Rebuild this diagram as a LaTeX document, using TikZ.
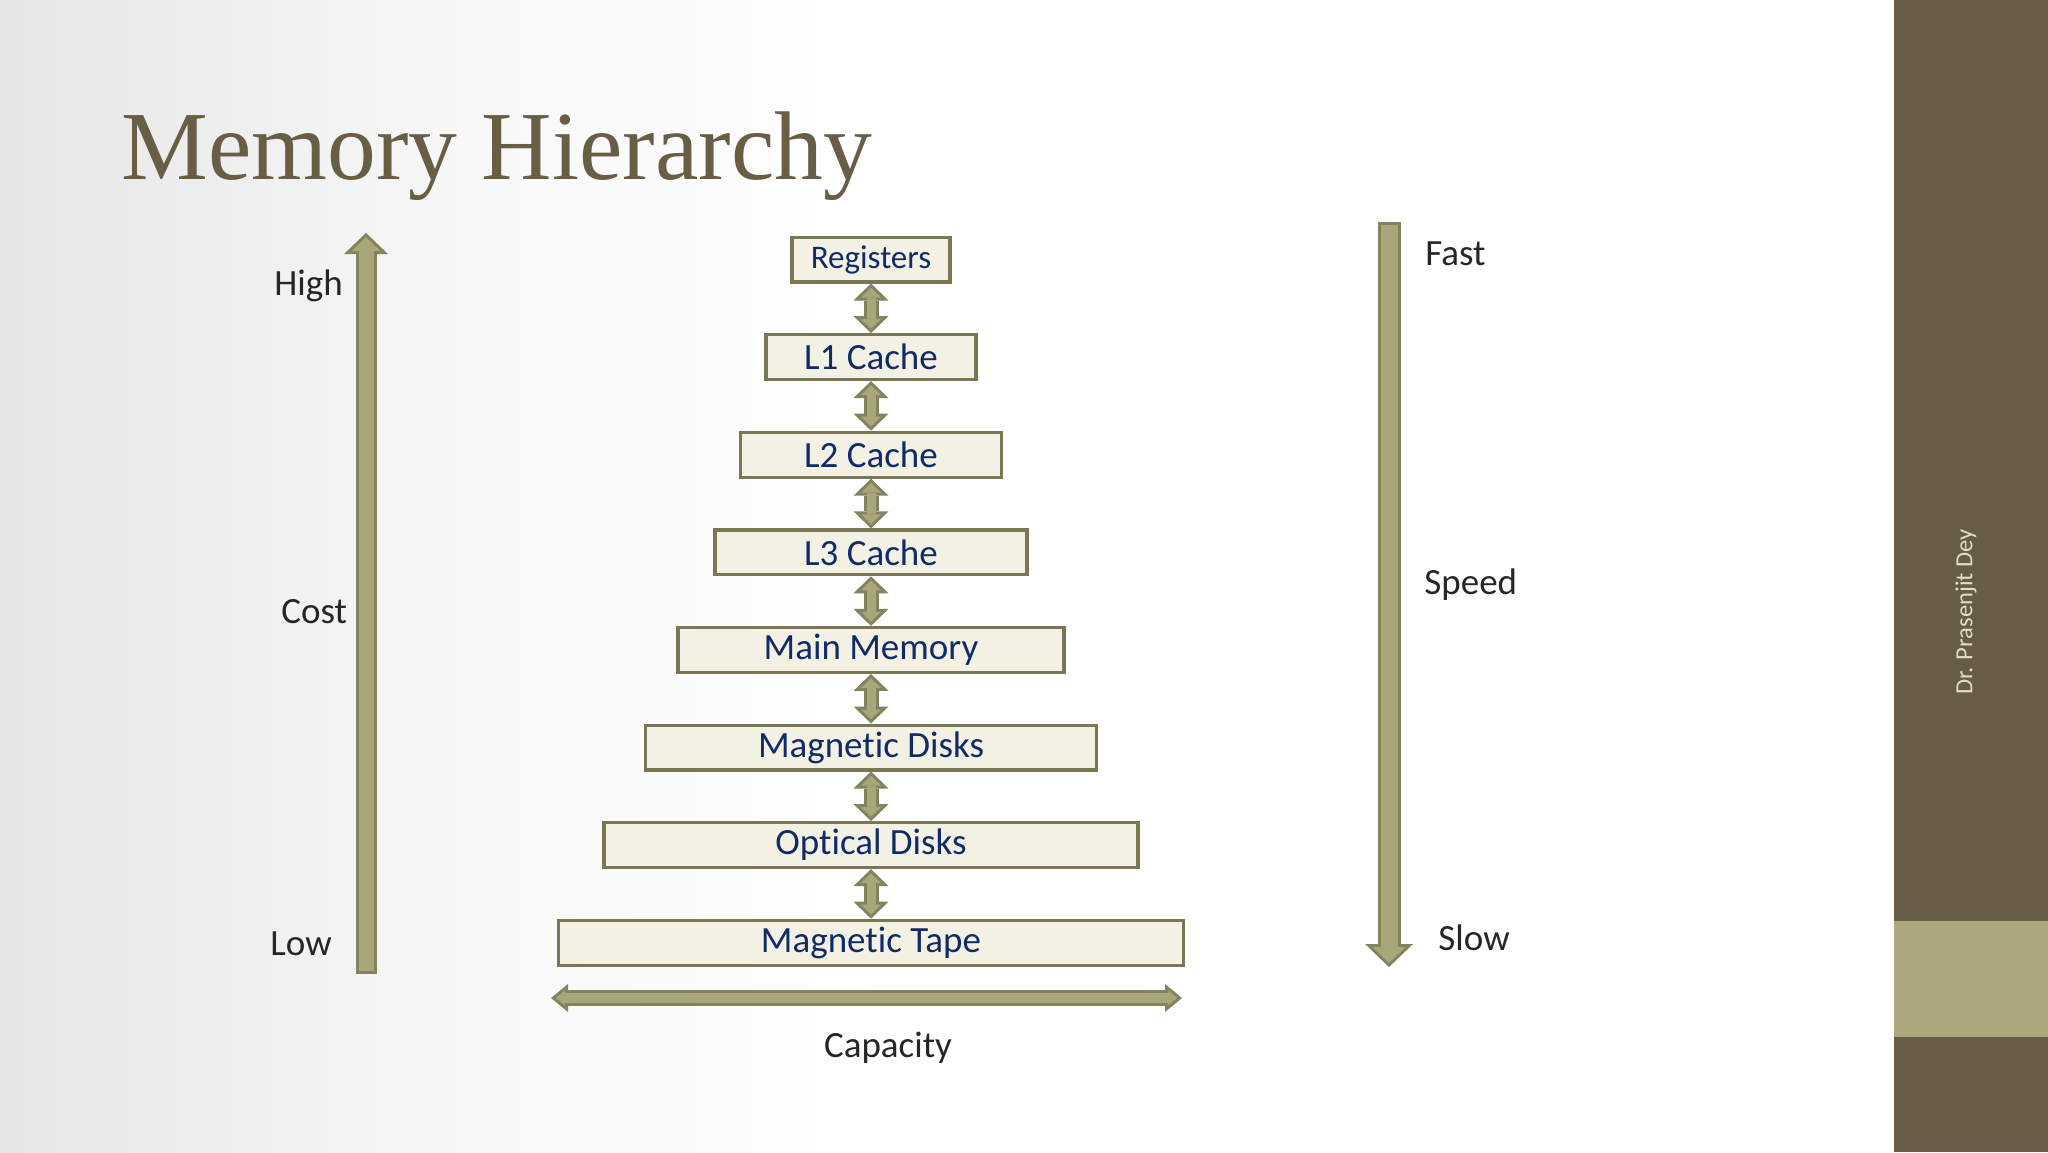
\documentclass[tikz,border=0pt]{standalone}
\usepackage{fontspec}
\setmainfont{Carlito}[Ligatures=NoCommon]
\newfontfamily\titlefont{Liberation Serif}
\usetikzlibrary{arrows.meta,positioning}

\definecolor{slidebar}{HTML}{665C48}
\definecolor{slideband}{HTML}{ADA77D}
\definecolor{titlebrown}{HTML}{675E45}
\definecolor{boxfill}{HTML}{F2F1E4}
\definecolor{boxline}{HTML}{7A7754}
\definecolor{arrowfill}{HTML}{A9A67A}
\definecolor{arrowline}{HTML}{85825F}
\definecolor{navy}{HTML}{112B66}
\definecolor{labelgray}{HTML}{262626}
\definecolor{namebeige}{HTML}{E2DCC6}

\begin{document}
\begin{tikzpicture}[x=0.5pt,y=-0.5pt,node distance=24.8pt]
  \tikzstyle{level}=[draw=boxline,fill=boxfill,line width=1.6pt,text=navy,
                     font=\fontsize{18.5}{22}\selectfont,inner sep=0pt,minimum height=22.4pt]
  \tikzstyle{side}=[text=labelgray,font=\fontsize{18.5}{22}\selectfont,inner sep=0pt,anchor=base west]
  \tikzstyle{linkout}=[draw=arrowline,line width=7.5pt,
                       arrows={Triangle[width=17.5pt,length=8.5pt,line width=0pt]-Triangle[width=17.5pt,length=8.5pt,line width=0pt]}]
  \tikzstyle{linkin}=[draw=arrowfill,line width=4.5pt,shorten <=2.1pt,shorten >=2.1pt,
                      arrows={Triangle[width=10pt,length=4.9pt,line width=0pt]-Triangle[width=10pt,length=4.9pt,line width=0pt]}]

  \useasboundingbox (0,0) rectangle (2048,1152);
  % slide background and side bar
  \fill[white] (0,0) rectangle (2048,1152);
  \shade[left color=black!10,right color=white,middle color=black!3] (0,0) rectangle (900,1152);
  \fill[slidebar] (1894,0) rectangle (2048,1152);
  \fill[slideband] (1894,921) rectangle (2048,1037);
  \node[rotate=90,text=namebeige,font=\fontsize{12.3}{14}\selectfont] (author) at (1966,612) {Dr. Prasenjit Dey};

  \node[anchor=base west,inner sep=0pt,text=titlebrown,font=\titlefont\fontsize{48.8}{58}\selectfont]
       (title) at (121,179) {Memory Hierarchy};

  % the levels
  \node[level,minimum width=79pt,font=\fontsize{16.5}{20}\selectfont] (reg) at (871,259.5) {Registers};
  \node[level,minimum width=105pt]   (lone)    [below=of reg]     {L1 Cache};
  \node[level,minimum width=130.5pt] (ltwo)    [below=of lone]    {L2 Cache};
  \node[level,minimum width=156pt]   (lthree)  [below=of ltwo]    {L3 Cache};
  \node[level,minimum width=193pt]   (mainmem) [below=of lthree]  {Main Memory};
  \node[level,minimum width=225.5pt] (disks)   [below=of mainmem] {Magnetic Disks};
  \node[level,minimum width=267pt]   (optical) [below=of disks]   {Optical Disks};
  \node[level,minimum width=312.5pt] (tape)    [below=of optical] {Magnetic Tape};

  \foreach \a/\b in {reg/lone,lone/ltwo,ltwo/lthree,lthree/mainmem,mainmem/disks,disks/optical,optical/tape}
  {
    \draw[linkout] (\a.south) -- (\b.north);
    \draw[linkin]  (\a.south) -- (\b.north);
  }

  % cost axis
  \coordinate (costlow)  at (366,974);
  \coordinate (costhigh) at (366,233);
  \draw[draw=arrowline,line width=10.5pt,arrows={-Triangle[width=22pt,length=10.5pt,line width=0pt]}] (costlow) -- (costhigh);
  \draw[draw=arrowfill,line width=7.5pt,shorten <=1.5pt,shorten >=2.1pt,
        arrows={-Triangle[width=14.5pt,length=6.9pt,line width=0pt]}] (costlow) -- (costhigh);
  \node[side] (high) at (274,295) {High};
  \node[side] (cost) at (281,623) {Cost};
  \node[side] (low)  at (270,955) {Low};

  % speed axis
  \coordinate (speedfast) at (1389,222);
  \coordinate (speedslow) at (1389,967);
  \draw[draw=arrowline,line width=11.5pt,arrows={-Triangle[width=24pt,length=11.5pt,line width=0pt]}] (speedfast) -- (speedslow);
  \draw[draw=arrowfill,line width=8.5pt,shorten <=1.5pt,shorten >=2.1pt,
        arrows={-Triangle[width=16.5pt,length=7.9pt,line width=0pt]}] (speedfast) -- (speedslow);
  \node[side] (fast)  at (1425,265) {Fast};
  \node[side] (speed) at (1424,594) {Speed};
  \node[side] (slow)  at (1438,950) {Slow};

  % capacity axis
  \coordinate (capleft)  at (551,998);
  \coordinate (capright) at (1182,998);
  \draw[draw=arrowline,line width=8pt,
        arrows={Triangle[width=14pt,length=8.5pt,line width=0pt]-Triangle[width=14pt,length=8.5pt,line width=0pt]}] (capleft) -- (capright);
  \draw[draw=arrowfill,line width=5pt,shorten <=2.4pt,shorten >=2.4pt,
        arrows={Triangle[width=7.6pt,length=4.6pt,line width=0pt]-Triangle[width=7.6pt,length=4.6pt,line width=0pt]}] (capleft) -- (capright);
  \node[side,anchor=base] (capacity) at (888,1057) {Capacity};
\end{tikzpicture}
\end{document}
